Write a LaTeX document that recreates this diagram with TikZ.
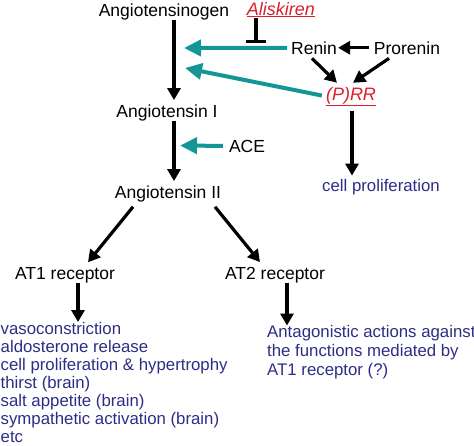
\documentclass[tikz,border=0pt]{standalone}
\usepackage{fontspec}
\setmainfont{Liberation Sans}
\usetikzlibrary{arrows.meta}
\definecolor{ras teal}{RGB}{20,150,150}
\definecolor{ras red}{RGB}{220,30,45}
\definecolor{ras blue}{RGB}{45,45,135}
\tikzset{
	blk/.style={inner sep=0pt, font={\fontsize{17.5}{20}\selectfont}},
	redtxt/.style={inner sep=0pt, text=ras red, font={\itshape\fontsize{18}{20}\selectfont}},
	bluetxt/.style={inner sep=0pt, text=ras blue, align=left, font={\fontsize{16.8}{18}\selectfont}},
	arr/.style={line width=3.2pt, -{Triangle[width=13pt,length=12pt]}},
	tealarr/.style={line width=4pt, color=ras teal, -{Triangle[width=16pt,length=17pt]}},
	blockarr/.style={line width=3.5pt, -{Bar[width=20pt]}}
}

\begin{document}
\begin{tikzpicture}[x=1pt,y=-1pt]
		\useasboundingbox (0,0) rectangle (474,445);
		
		%%%%% TEXT %%%%%
		\node[blk, anchor=base] (agen) at (164,16) {Angiotensinogen};
		\node[blk, anchor=base] (ang1) at (167,117) {Angiotensin I};
		\node[blk, anchor=base] (ang2) at (168,198) {Angiotensin II};
		\node[blk, anchor=base] (ace) at (247,152) {ACE};
		\node[blk, anchor=base] (renin) at (314,54) {Renin};
		\node[blk, anchor=base] (pro) at (407,54) {Prorenin};
		\node[redtxt, anchor=base] (alis) at (281,15) {\underline{Aliskiren}};
		\node[redtxt, anchor=base] (prr) at (351,100) {\underline{(P)RR}};
		\node[bluetxt, anchor=base] (prolif) at (381,191) {cell proliferation};
		\node[blk, anchor=base] (at1) at (65,279) {AT1 receptor};
		\node[blk, anchor=base] (at2) at (275,279) {AT2 receptor};
		
		\node[bluetxt, anchor=north west] (at1fx) at (0.5,322) {vasoconstriction\\aldosterone release\\cell proliferation \& hypertrophy\\thirst (brain)\\salt appetite (brain)\\sympathetic activation (brain)\\etc};
		\node[bluetxt, anchor=north west, font={\fontsize{16.8}{19}\selectfont}] (at2fx) at (267,325.5) {Antagonistic actions against\\the functions mediated by\\AT1 receptor (?)};
		
		%%%%% CONNECTORS %%%%%
		\coordinate (inhib) at (256,43);
		\coordinate (reninend) at (184,48);
		\coordinate (prrend) at (185,68);
		\coordinate (aceend) at (180,145.5);
		\coordinate (at1b) at ([xshift=13]at1.south);
		\coordinate (at2b) at ([xshift=12]at2.south);
		
		\draw[arr] ([xshift=10]agen.south) -- ([xshift=7,yshift=4]ang1.north);
		\draw[arr] ([xshift=7]ang1.south) -- ([xshift=6,yshift=4]ang2.north);
		\draw[arr] ([xshift=-35,yshift=-5]ang2.south) -- ([xshift=23,yshift=4.5]at1.north);
		\draw[arr] ([xshift=47,yshift=-5]ang2.south) -- ([xshift=-15,yshift=4.5]at2.north);
		\draw[arr] (at1b) -- (at1b |- at1fx.north);
		\draw[arr] (at2b) -- (at2b |- at2fx.north);
		
		\draw[arr, shorten <=5pt, shorten >=1pt] (pro.west) -- (renin.east);
		\draw[arr] ([xshift=-2,yshift=-4]renin.south) -- ([xshift=-14,yshift=4]prr.north);
		\draw[arr] ([xshift=-18,yshift=-4]pro.south) -- ([xshift=2,yshift=4]prr.north);
		\draw[arr, shorten <=5pt, shorten >=3pt] ([xshift=1]prr.south) -- ([xshift=1]prr.south |- prolif.north);
		
		\draw[tealarr, shorten <=4pt] (renin.west) -- (reninend);
		\draw[tealarr, shorten <=4pt] (prr.west) -- (prrend);
		\draw[tealarr, shorten <=6pt] (ace.west) -- (aceend);
		\draw[blockarr, shorten <=1pt] (alis.south -| inhib) -- (inhib);
		
\end{tikzpicture}
\end{document}
